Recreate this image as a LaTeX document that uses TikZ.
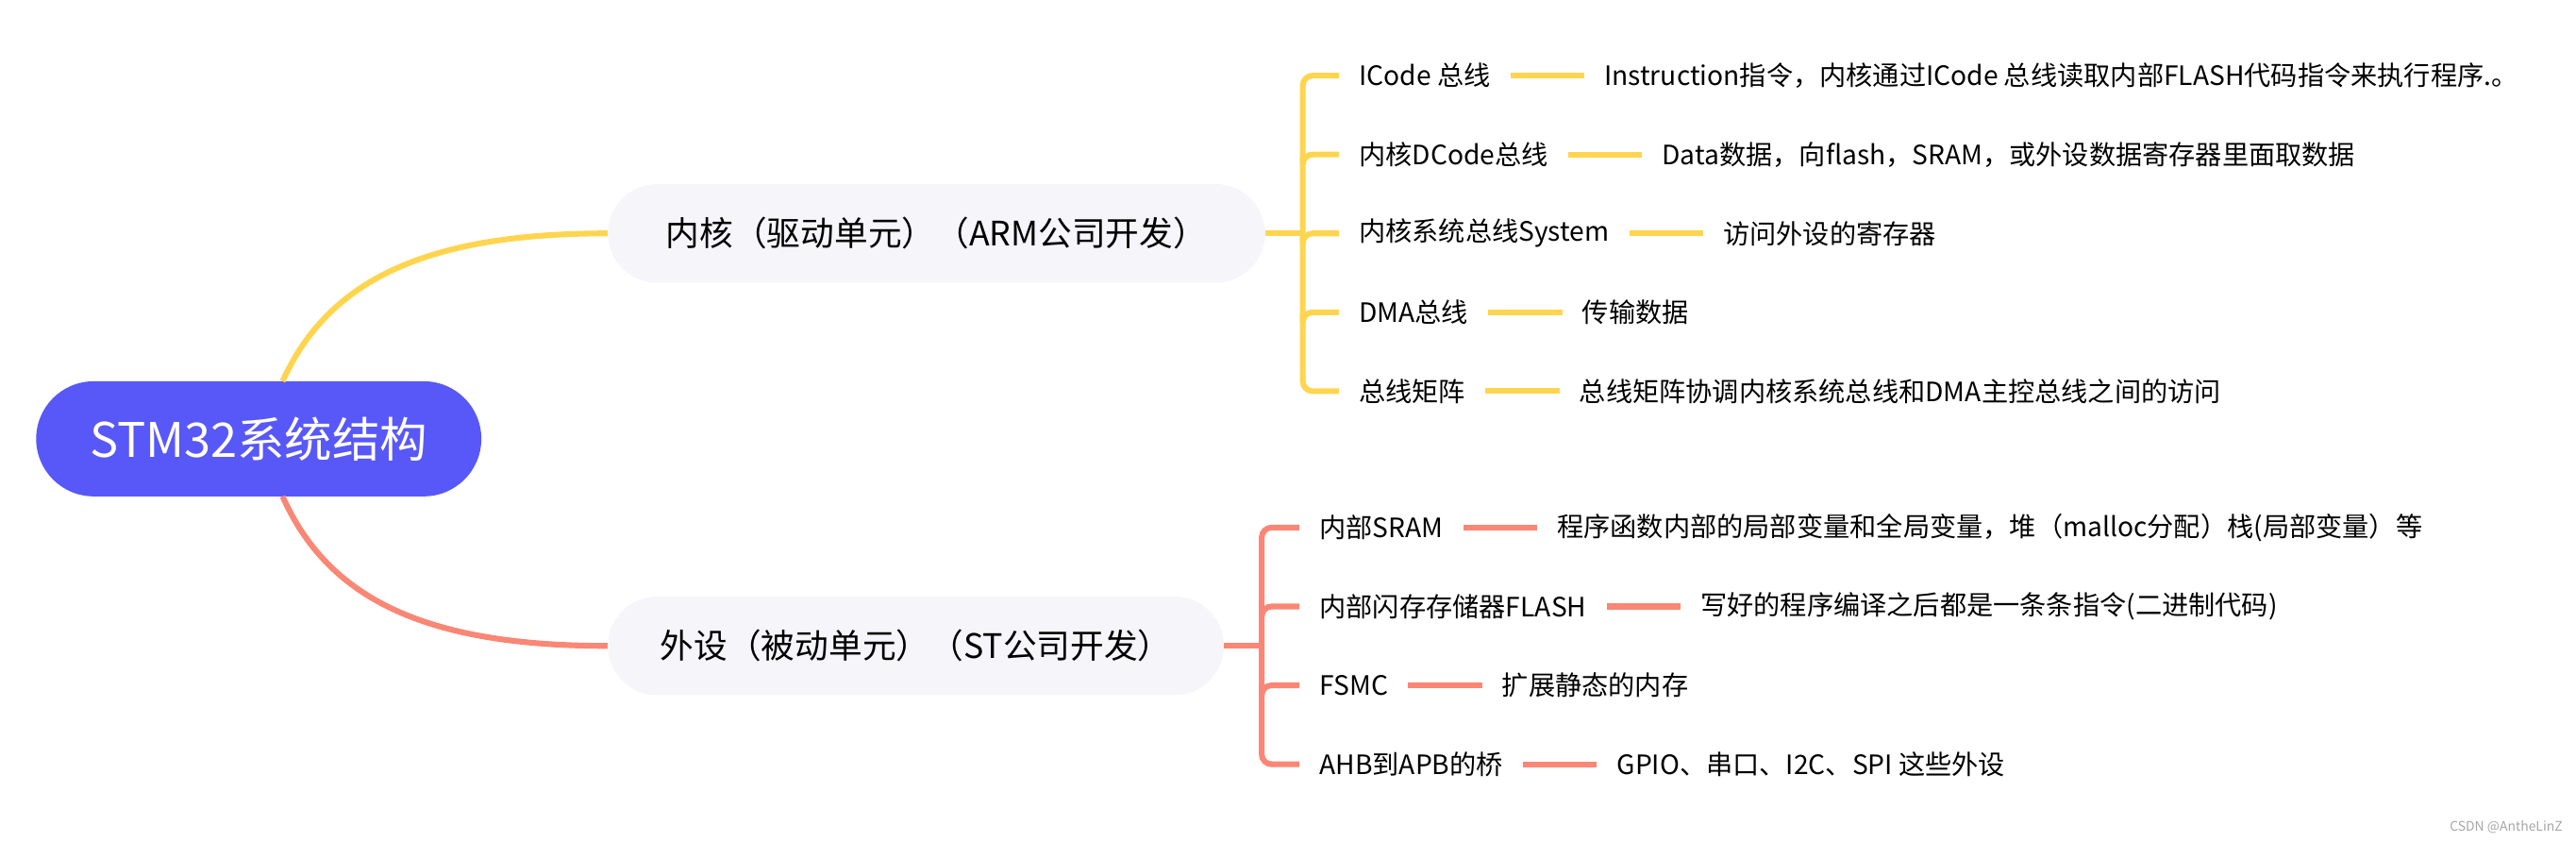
\documentclass[tikz,border=0pt]{standalone}
\usepackage{fontspec}
\setmainfont{Noto Sans CJK SC}
\usetikzlibrary{positioning,calc}
\definecolor{yel}{HTML}{FFD54F}
\definecolor{sal}{HTML}{FA8775}
\definecolor{blu}{HTML}{5858F8}
\definecolor{pal}{HTML}{F5F5FA}
\begin{document}
\begin{tikzpicture}[x=1pt,y=-1pt,
 root/.style={fill=blu,text=white,rounded corners=35pt,minimum width=271pt,minimum height=70pt,font=\fontsize{29}{33}\selectfont,inner sep=0},
 mid/.style={fill=pal,rounded corners=30pt,minimum height=60pt,font=\fontsize{20.5}{24}\selectfont,inner sep=0},
 leaf/.style={font=\fontsize{16.2}{19}\selectfont,inner sep=0,anchor=west},
 desc/.style={font=\fontsize{16.2}{19}\selectfont,inner sep=0,right=69pt of #1},
 yl/.style={draw=yel,line width=3.5pt},
 sl/.style={draw=sal,line width=3.5pt}]
\useasboundingbox (0,0) rectangle (1568,512.3);
\node[root] (r) at (157.5,267) {STM32系统结构};
\node[mid,minimum width=400pt] (k) at (570,142) {内核（驱动单元）（ARM公司开发）};
\node[mid,minimum width=375pt] (p) at (557.5,393) {外设（被动单元）（ST公司开发）};
\draw[yl] (172,232) .. controls (200,170) and (260,142) .. (k.west);
\draw[sl] (172,302) .. controls (200,365) and (260,393) .. (p.west);
% core children
\foreach \n/\y/\t/\d in {a/46/ICode 总线/Instruction指令，内核通过ICode 总线读取内部FLASH代码指令来执行程序.。,
 b/94/内核DCode总线/Data数据，向flash，SRAM，或外设数据寄存器里面取数据,
 c/142/内核系统总线System/访问外设的寄存器,
 d/190/DMA总线/传输数据,
 e/238/总线矩阵/总线矩阵协调内核系统总线和DMA主控总线之间的访问}{
 \node[leaf] (\n) at (827,\y) {\t};
 \node[desc=\n] (\n d) {\d};
 \draw[yl] ($(\n.east)+(12,0)$) -- ($(\n d.west)+(-12,0)$);
}
\draw[yl] (k.east) -- (793,142);
\draw[yl,rounded corners=6pt] (815,46) -- (793,46) -- (793,238) -- (815,238);
\foreach \y in {94,142,190}{\draw[yl,rounded corners=6pt] (815,\y) -- (793,\y) -- (793,\y+1);}
% peripheral children
\foreach \n/\y/\t/\d in {f/321/内部SRAM/程序函数内部的局部变量和全局变量，堆（malloc分配）栈(局部变量）等,
 g/369/内部闪存存储器FLASH/写好的程序编译之后都是一条条指令(二进制代码),
 h/417/FSMC/扩展静态的内存,
 i/465/AHB到APB的桥/GPIO、串口、I2C、SPI 这些外设}{
 \node[leaf] (\n) at (803,\y) {\t};
 \node[desc=\n] (\n d) {\d};
 \draw[sl] ($(\n.east)+(12,0)$) -- ($(\n d.west)+(-12,0)$);
}
\draw[sl] (p.east) -- (768,393);
\draw[sl,rounded corners=6pt] (791,321) -- (768,321) -- (768,465) -- (791,465);
\foreach \y in {369,417}{\draw[sl,rounded corners=6pt] (791,\y) -- (768,\y) -- (768,\y+1);}
\node[font=\fontsize{8}{9}\selectfont,text=gray!70,anchor=east,inner sep=0] (w) at (1560,503) {CSDN @AntheLinZ};
\end{tikzpicture}
\end{document}
